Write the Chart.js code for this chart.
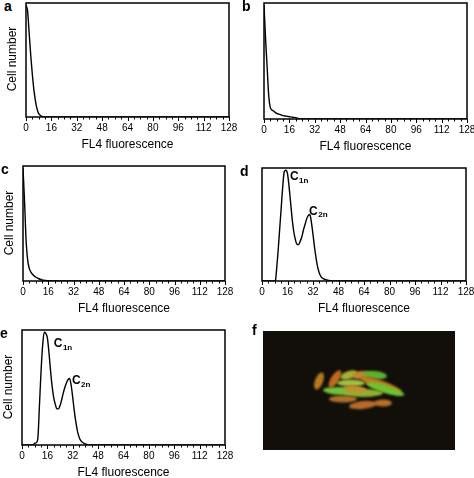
<!DOCTYPE html>
<html><head><meta charset="utf-8">
<script src="https://cdn.jsdelivr.net/npm/chart.js@4/dist/chart.umd.min.js"></script>
<style>
body{margin:0;background:#fff;width:474px;height:478px;position:relative;overflow:hidden;font-family:"Liberation Sans",Arial,sans-serif}
.box{position:absolute}
.lt{position:absolute;font-weight:bold;font-size:14px;color:#000}
.yl{position:absolute;font-size:12px;transform:rotate(-90deg);transform-origin:center;white-space:nowrap;width:80px;text-align:center}
</style></head><body>
<script>
// ---- data ----
const xA=[0,1,2,3,4,5,6,7,8,9,10,12,128];
const yA=[100,95,75,55,38,24,14,7,3,1.5,0.5,0,0];
const xB=[0,1,2,3,4,5,6,8,10,12,14,16,18,20,22,24,128];
const yB=[100,70,45,20,10,8,7,5,4,3,2.5,2,1.5,1.2,0.3,0,0];
const xC=[0,1,2,3,4,6,8,10,12,14,16,18,20,128];
const yC=[100,70,35,18,11,6,3.5,2,1,0.5,0.3,0.2,0,0];
const xD=[0,8,8.5,9,10,11,12,13,14,15,16,17,18,19,20,21,22,23,24,25,26,27,28,29,30,31,32,33,34,35,36,37,38,40,42,44,128];
const yD=[0,0,1,8,25,45,65,85,99,100,97,85,70,55,44,37,33,33,36,40,46,51,56,59,60,53,42,30,20,12,7,4,2.5,1.2,0.5,0,0];
const xE=[0,7,8,9,10,11,12,13,14,15,16,17,18,19,20,21,22,23,24,25,26,27,28,29,30,31,32,33,34,35,36,37,38,40,42,128];
const yE=[0,0,1.5,2,6,35,65,88,100,99,95,82,66,52,42,36,32,32,35,40,46,51,55,58,59,53,42,30,20,12,7,4,2.5,1,0,0];
const tickLabels=[0,16,32,48,64,80,96,112,128];
const xTitle="FL4 fluorescence";
const yTitle="Cell number";

const panels=[
 {id:'a',xs:xA,ys:yA,L:26,T:3,W:203,H:114},
 {id:'b',xs:xB,ys:yB,L:264,T:3,W:203,H:116},
 {id:'c',xs:xC,ys:yC,L:23,T:166,W:202,H:115},
 {id:'d',xs:xD,ys:yD,L:262,T:168,W:204,H:113,peaks:[[17.5,94,'1n'],[29.5,63,'2n']]},
 {id:'e',xs:xE,ys:yE,L:22,T:330,W:203,H:115,peaks:[[20,90,'1n'],[31.5,57,'2n']]},
];
const PL=14,PT=4,PR=14,AX=35;
const deco={id:'deco',afterDatasetsDraw(ch,a,o){
  const c=ch.ctx,ca=ch.chartArea,sx=ch.scales.x;
  c.save();c.strokeStyle='#000';c.lineWidth=1.5;
  c.strokeRect(ca.left,ca.top,ca.right-ca.left,ca.bottom-ca.top);
  c.lineWidth=1;
  for(let v=0;v<=128;v+=4){const p=Math.round(sx.getPixelForValue(v))+0.5;
    c.beginPath();c.moveTo(p,ca.bottom);c.lineTo(p,ca.bottom+(v%16==0?4:2.5));c.stroke();}
  (o.peaks||[]).forEach(([x,y,s])=>{
    const px=sx.getPixelForValue(x),py=ch.scales.y.getPixelForValue(y);
    c.fillStyle='#000';c.textBaseline='middle';c.font='bold 12px "Liberation Sans"';
    c.fillText('C',px,py);const w=c.measureText('C').width;
    c.font='bold 8px "Liberation Sans"';c.fillText(s,px+w+0.5,py+4);
  });
  c.restore();}};
panels.forEach(p=>{
  const d=document.createElement('div');d.className='box';
  d.style.left=(p.L-PL)+'px';d.style.top=(p.T-PT)+'px';
  d.style.width=(p.W+PL+PR)+'px';d.style.height=(p.H+PT+AX)+'px';
  const cv=document.createElement('canvas');d.appendChild(cv);document.body.appendChild(d);
  const l=document.createElement('div');l.className='lt';l.textContent=p.id;
  l.style.left=(p.L-22)+'px';l.style.top=(p.T-5)+'px';document.body.appendChild(l);
  if(p.id!=='b'&&p.id!=='d'){const y=document.createElement('div');y.className='yl';y.textContent=yTitle;
    y.style.left=(p.L-54)+'px';y.style.top=(p.T+p.H/2-8)+'px';document.body.appendChild(y);}
  new Chart(cv,{type:'line',
    data:{datasets:[{data:p.xs.map((x,i)=>({x,y:p.ys[i]})),borderColor:'#000',borderWidth:1.4,pointRadius:0,cubicInterpolationMode:'monotone',fill:false}]},
    options:{animation:false,responsive:true,maintainAspectRatio:false,
      layout:{padding:{left:PL,top:PT,right:PR,bottom:0}},
      plugins:{legend:{display:false},tooltip:{enabled:false},deco:{peaks:p.peaks||[]}},
      scales:{
        x:{type:'linear',min:0,max:128,grid:{display:false,drawTicks:false},border:{display:false},
           afterFit(s){s.height=AX;},
           afterBuildTicks(s){s.ticks=tickLabels.map(v=>({value:v}));},
           ticks:{autoSkip:false,maxRotation:0,padding:5,color:'#000',font:{family:'"Liberation Sans Narrow","Liberation Sans"',size:10}},
           title:{display:true,text:xTitle,color:'#000',padding:{top:1,bottom:0},font:{family:'"Liberation Sans"',size:12}}},
        y:{display:false,min:0,max:102}
      }},
    plugins:[deco]});
});
// panel f: photo-like micrograph
(function(){
  const L=263,T=331,W=192,H=119;
  const l=document.createElement('div');l.className='lt';l.textContent='f';l.style.left='252px';l.style.top='322px';document.body.appendChild(l);
  const cv=document.createElement('canvas');cv.width=W;cv.height=H;cv.style.position='absolute';cv.style.left=L+'px';cv.style.top=T+'px';
  document.body.appendChild(cv);const c=cv.getContext('2d');
  c.fillStyle='#120f0b';c.fillRect(0,0,W,H);
  const cells=[[56,50,9,4,-1.2,'#b87a20'],[72,48,10,4,-1.0,'#c06a20'],[86,44,9,4,-0.3,'#a8b030'],[98,44,9,4,-0.1,'#c08830'],
   [112,44,12,4,0.1,'#60b030'],[88,52,14,3.5,0,'#a0c040'],[118,54,22,4.5,0.35,'#c07a20'],[122,58,20,4,0.3,'#70c030'],
   [78,60,18,4,0.05,'#70c038'],[100,62,20,4,0,'#90b030'],[80,68,14,3.5,0,'#a87428'],[100,74,14,4,-0.1,'#b86a28'],[120,72,9,3.5,0,'#b87028'],[92,58,12,3.5,0.1,'#c09030']];
  c.filter='blur(1.2px)';
  cells.forEach(([x,y,rx,ry,r,col])=>{c.fillStyle=col;c.beginPath();c.ellipse(x,y,rx,ry,r,0,Math.PI*2);c.fill();});
})();
</script>
</body></html>
